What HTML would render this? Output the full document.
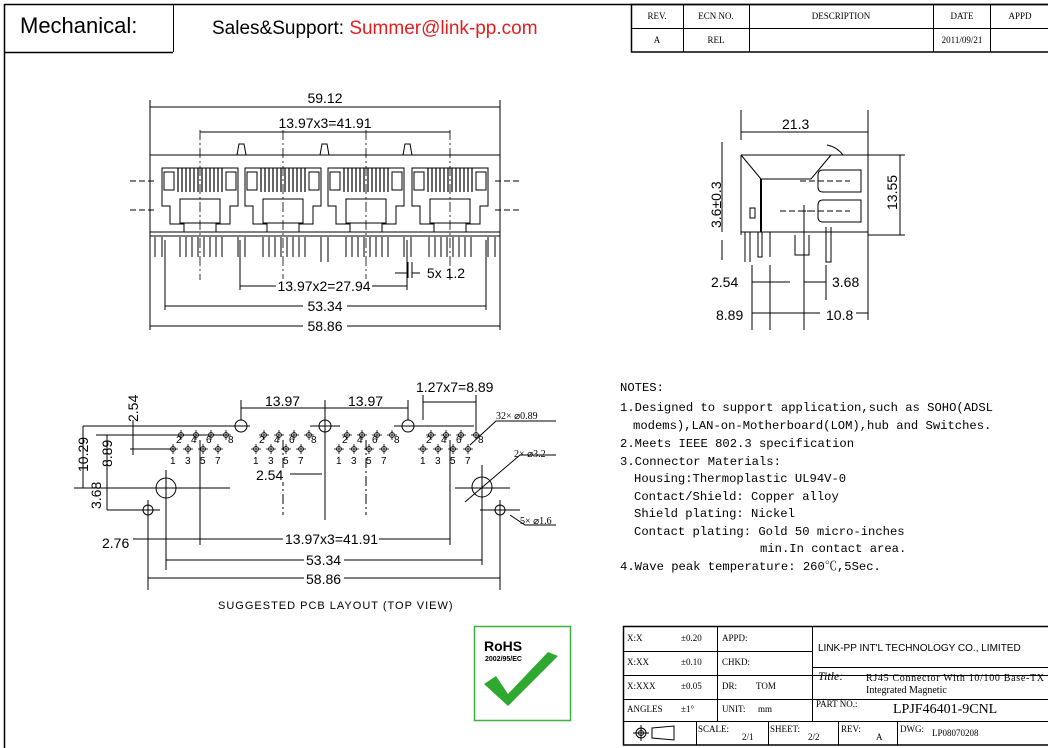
<!DOCTYPE html>
<html><head><meta charset="utf-8"><style>
body{margin:0;background:#fff;width:1048px;height:748px;overflow:hidden}
svg{display:block}
text{font-family:"Liberation Sans",sans-serif;fill:#000}
.m{font-family:"Liberation Mono","Noto Serif CJK SC",monospace}
.s{font-family:"Liberation Serif","Noto Serif CJK SC",serif}
</style></head><body>
<svg width="1048" height="748" viewBox="0 0 1048 748" stroke="#000" fill="none" stroke-width="1">
<!-- frame -->
<rect x="4.5" y="4.5" width="1050" height="760" stroke-width="1.5"/>
<line x1="4" y1="52.5" x2="173" y2="52.5" stroke-width="1.5"/>
<line x1="173.5" y1="4" x2="173.5" y2="52"/>
<text x="20" y="33" font-size="22" stroke="none" font-family="Liberation Mono">Mechanical:</text>
<text x="212" y="34" font-size="19" stroke="none">Sales&amp;Support: <tspan fill="#e02020">Summer@link-pp.com</tspan></text>
<!-- rev table -->
<rect x="631.5" y="4.5" width="420" height="47.5" stroke-width="1.5"/>
<line x1="631" y1="28.5" x2="1048" y2="28.5"/>
<g stroke-width="1"><line x1="683.5" y1="4" x2="683.5" y2="52"/><line x1="749.5" y1="4" x2="749.5" y2="52"/><line x1="933.5" y1="4" x2="933.5" y2="52"/><line x1="990.5" y1="4" x2="990.5" y2="52"/></g>
<g font-size="9" stroke="none" class="s" text-anchor="middle">
<text x="657" y="19" class="s">REV.</text><text x="716" y="19" class="s">ECN NO.</text><text x="841" y="19" class="s">DESCRIPTION</text><text x="962" y="19" class="s">DATE</text><text x="1020" y="19" class="s">APPD</text>
<text x="657" y="43" class="s">A</text><text x="716" y="43" class="s">REL</text><text x="962" y="43" class="s">2011/09/21</text></g>

<!-- FRONT VIEW -->
<g stroke-width="1">
<rect x="150" y="155" width="350" height="77"/>
<line x1="150" y1="232" x2="150" y2="258"/><line x1="500" y1="232" x2="500" y2="258"/>
<path d="M237 155 l2-11 h5 l2 11 M320 155 l2-11 h5 l2 11 M403 155 l2-11 h5 l2 11"/>
<g id="port"><path d="M162 206 v-38 h76 v38 h-8 v18 h-14 v8 h-32 v-8 h-14 v-18z"/><rect x="180" y="199" width="40" height="24"/>
<path d="M178 168 v24 M182 168 v24 M186 168 v24 M190 168 v24 M194 168 v24 M198 168 v24 M202 168 v24 M206 168 v24 M210 168 v24 M214 168 v24 M218 168 v24 M222 168 v24" stroke-width="1.2"/>
<rect x="164" y="172" width="10" height="18"/><rect x="226" y="172" width="10" height="18"/></g>
<use href="#port" x="83"/><use href="#port" x="166"/><use href="#port" x="250"/>
<path d="M155 237 v20 M162 237 v20 M180 237 v20 M186 237 v20 M192 237 v20 M198 237 v20 M204 237 v20 M210 237 v20 M216 237 v20 M222 237 v20 M238 237 v20 M245 237 v20 M263 237 v20 M269 237 v20 M275 237 v20 M281 237 v20 M287 237 v20 M293 237 v20 M299 237 v20 M305 237 v20 M321 237 v25 M328 237 v25 M346 237 v20 M352 237 v20 M358 237 v20 M364 237 v20 M370 237 v20 M376 237 v20 M382 237 v20 M388 237 v20 M404 237 v20 M411 237 v20 M429 237 v20 M435 237 v20 M441 237 v20 M447 237 v20 M453 237 v20 M459 237 v20 M465 237 v20 M471 237 v20 M488 237 v20 M495 237 v20"/>
<line x1="150" y1="236" x2="500" y2="236"/>
<path d="M130 181 h25 M130 210 h25 M495 181 h25 M495 210 h25" stroke-dasharray="6 3"/>
<path d="M200 130 v150 M283 130 v150 M366 130 v150 M450 130 v150" stroke-dasharray="10 3 2 3" stroke-width="0.8"/>
<!-- dims -->
<path d="M150 100 v230 M500 100 v230 M165 240 v70 M486 240 v70 M240 240 v50 M407 240 v50 M408 262 v16 M412 262 v16"/>
<path d="M150 107 H500 M200 132 H450 M240 286 H407 M165 306 H486 M150 326 H500 M395 273 h13 M412 273 h8"/>
</g>
<g stroke="none" fill="#fff"><rect x="276" y="279" width="96" height="14"/><rect x="303" y="299" width="44" height="14"/><rect x="303" y="319" width="44" height="14"/></g>
<g font-size="14" stroke="none" text-anchor="middle">
<text x="325" y="103">59.12</text><text x="325" y="128">13.97x3=41.91</text>
<text x="446" y="278">5x  1.2</text>
<text x="324" y="291">13.97x2=27.94</text><text x="325" y="311">53.34</text><text x="325" y="331">58.86</text></g>

<!-- SIDE VIEW -->
<g stroke-width="1">
<path d="M741 155 H868 V235 M741 155 V235 M741 155 l20 24 h50 l20 -24"/>
<line x1="761" y1="179" x2="761" y2="232" stroke-width="2"/>
<path d="M827 145 q10 2 16 10"/>
<path d="M818 175 q0 -5 5 -5 h38 v22 h-38 q-5 0 -5 -5z M818 205 q0 -5 5 -5 h38 v22 h-38 q-5 0 -5 -5z"/>
<rect x="750" y="208" width="5" height="10"/>
<path d="M741 232 H868 M745 232 v30 M750 232 v30 M758 232 v25 h4 v-25 M770 232 v25 M795 235 v20 h14 v-20 M826 227 v35 h5 v-35"/>
<path d="M741 110 v30 M868 110 v210 M741 132 H868 M868 155 H905 M868 235 H905 M900 155 V235 M722 232 v-90 M722 240 v20 M752 265 V330 M770 265 V330 M804 205 V330 M826 265 V300 M752 282 H790 M804 282 H826 M752 313 H820 M856 313 H868"/>
<path d="M780 211 h30 M800 181 h50 M800 211 h50" stroke-dasharray="6 3"/>
</g>
<g font-size="14" stroke="none"><text x="782" y="129">21.3</text><text x="711" y="287">2.54</text><text x="832" y="287">3.68</text><text x="716" y="320">8.89</text><text x="826" y="320">10.8</text>
<text transform="translate(897,210) rotate(-90)">13.55</text><text transform="translate(721,228) rotate(-90)">3.6±0.3</text></g>

<!-- PCB LAYOUT -->
<g stroke-width="1">
<path d="M83 426 H250 M96 435 H230 M130 449 H175 M74 488 H230 M107 510 H160 M310 426 h30 M394 426 h30 M424 426 h50 M455 488 H510 M480 510 H520 M166 470 V570 M482 465 V565 M148 500 V590 M500 500 V590 M200 440 V545 M450 440 V545 M325 400 V520 M241 400 V420 M408 400 V420 M423 395 V420 M476 395 V430"/>
<path d="M283 440 V515 M366 440 V515" stroke-dasharray="10 3 2 3"/>
<path d="M241 408 H408 M423 402 H476 M200 539 H450 M166 560 H482 M148 578 H500 M83 426 V488 M107 435 V488 M107 488 V510 M133 420 V455 M290 474 H322 M225 539 h-50 M133 539 H175"/>
<circle cx="241" cy="426" r="6"/><circle cx="325" cy="426" r="6"/><circle cx="408" cy="426" r="6"/>
<circle cx="166" cy="488" r="10"/><circle cx="482" cy="487" r="10"/><circle cx="148" cy="510" r="5"/><circle cx="500" cy="510" r="5"/>
<path d="M465 502 L520 455 H556 M510 515 L525 525 H556 M470 445 L496 421 H556"/>
<g id="grp"><g stroke-width="0.8"><circle cx="181" cy="435" r="2.5"/><circle cx="196" cy="435" r="2.5"/><circle cx="211" cy="435" r="2.5"/><circle cx="226" cy="435" r="2.5"/><circle cx="173" cy="449" r="2.5"/><circle cx="188" cy="449" r="2.5"/><circle cx="203" cy="449" r="2.5"/><circle cx="218" cy="449" r="2.5"/>
<path d="M176 435 h10 M191 435 h10 M206 435 h10 M221 435 h10 M168 449 h10 M183 449 h10 M198 449 h10 M213 449 h10 M181 430 v10 M196 430 v10 M211 430 v10 M226 430 v10 M173 444 v10 M188 444 v10 M203 444 v10 M218 444 v10"/></g>
<g font-size="10" stroke="none" fill="#000" font-family="Liberation Serif"><text x="176" y="443">2</text><text x="191" y="443">4</text><text x="206" y="443">6</text><text x="228" y="443">8</text><text x="170" y="464">1</text><text x="185" y="464">3</text><text x="200" y="464">5</text><text x="215" y="464">7</text></g></g>
<use href="#grp" x="83"/><use href="#grp" x="166"/><use href="#grp" x="250"/>
</g>
<g stroke="none" fill="#fff"><rect x="283" y="532" width="96" height="14"/><rect x="304" y="553" width="40" height="14"/><rect x="304" y="571" width="40" height="14"/><rect x="255" y="468" width="30" height="14"/></g>
<g font-size="14" stroke="none"><text x="265" y="406">13.97</text><text x="348" y="406">13.97</text><text x="416" y="392">1.27x7=8.89</text><text x="256" y="480">2.54</text>
<text x="102" y="548">2.76</text><text x="285" y="544">13.97x3=41.91</text><text x="306" y="565">53.34</text><text x="306" y="584">58.86</text>
<text transform="translate(88,472) rotate(-90)">10.29</text><text transform="translate(112,467) rotate(-90)">8.89</text><text transform="translate(138,422) rotate(-90)">2.54</text><text transform="translate(101,509) rotate(-90)">3.68</text></g>
<g font-size="10" stroke="none" class="s"><text x="496" y="419" class="s">32× ⌀0.89</text><text x="514" y="457" class="s">2× ⌀3.2</text><text x="520" y="524" class="s">5× ⌀1.6</text></g>
<text x="218" y="609" font-size="11" stroke="none" letter-spacing="1">SUGGESTED PCB LAYOUT (TOP VIEW)</text>

<!-- NOTES -->
<g font-size="12.2" stroke="none" class="m">
<text x="620" y="391" class="m">NOTES:</text>
<text x="620" y="411" class="m">1.Designed to support application,such as SOHO(ADSL</text>
<text x="633" y="429" class="m">modems),LAN-on-Motherboard(LOM),hub and Switches.</text>
<text x="620" y="447" class="m">2.Meets IEEE 802.3 specification</text>
<text x="620" y="465" class="m">3.Connector Materials:</text>
<text x="634" y="482" class="m">Housing:Thermoplastic UL94V-0</text>
<text x="634" y="500" class="m">Contact/Shield: Copper alloy</text>
<text x="634" y="517" class="m">Shield plating: Nickel</text>
<text x="634" y="535" class="m">Contact plating: Gold 50 micro-inches</text>
<text x="760" y="552" class="m">min.In contact area.</text>
<text x="620" y="570" class="m">4.Wave peak temperature: 260℃,5Sec.</text></g>

<!-- RoHS -->
<rect x="474.5" y="626.5" width="96" height="94" stroke="#3cb043" stroke-width="1.5"/>
<text x="484" y="651" font-size="14" font-weight="bold" stroke="none" fill="#3cb043">RoHS</text>
<text x="485" y="661" font-size="7" font-weight="bold" stroke="none" fill="#3cb043">2002/95/EC</text>
<path d="M484 684 l12 -8 l12 18 l40 -42 l10 4 l-50 50z" fill="#2fa82f" stroke="none"/>

<!-- TITLE BLOCK -->
<rect x="623.5" y="626.5" width="430" height="118.5" stroke-width="1.5"/>
<g><path d="M623 651.5 H813 M623 675.5 H1048 M623 699.5 H1048 M623 721.5 H1048 M813 667.5 H1048 M717.5 627 V721 M812.5 627 V721 M696.5 721 V745 M768.5 721 V745 M838.5 721 V745 M897.5 721 V745"/></g>
<g font-size="9" stroke="none" class="s">
<text x="627" y="641" class="s">X:X</text><text x="681" y="641" class="s">±0.20</text><text x="722" y="641" class="s">APPD:</text>
<text x="627" y="665" class="s">X:XX</text><text x="681" y="665" class="s">±0.10</text><text x="722" y="665" class="s">CHKD:</text>
<text x="627" y="689" class="s">X:XXX</text><text x="681" y="689" class="s">±0.05</text><text x="722" y="689" class="s">DR:</text><text x="756" y="689" class="s">TOM</text>
<text x="627" y="712" class="s">ANGLES</text><text x="681" y="712" class="s">±1°</text><text x="722" y="712" class="s">UNIT:</text><text x="758" y="712" class="s">mm</text>
<text x="698" y="732" class="s">SCALE:</text><text x="742" y="740" class="s">2/1</text><text x="770" y="732" class="s">SHEET:</text><text x="808" y="740" class="s">2/2</text>
<text x="841" y="732" class="s">REV:</text><text x="876" y="740" class="s">A</text><text x="900" y="732" class="s">DWG:</text><text x="932" y="736" class="s">LP08070208</text>
<text x="816" y="707" class="s">PART NO.:</text></g>
<g font-size="10" stroke="none" class="s"><text x="866" y="681" class="s" textLength="178">RJ45 Connector With 10/100 Base-TX</text><text x="866" y="693" class="s">Integrated Magnetic</text></g>
<text x="818" y="651" font-size="10" stroke="none">LINK-PP INT'L TECHNOLOGY CO., LIMITED</text>
<text x="818" y="680" font-size="12" stroke="none" font-style="italic" class="s">Title:</text>
<text x="893" y="713" font-size="14" stroke="none" class="s">LPJF46401-9CNL</text>
<g stroke-width="1"><circle cx="641" cy="733" r="5"/><circle cx="641" cy="733" r="2.5"/><path d="M633 733 h16 M641 725 v16 M652 728 l22 -2 v14 l-22 -2z"/></g>
</svg>
</body></html>
